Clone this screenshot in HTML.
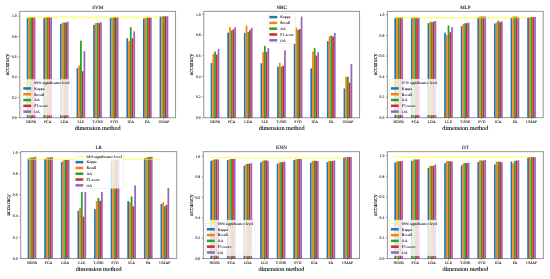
<!DOCTYPE html>
<html><head><meta charset="utf-8"><title>Classifier accuracy by dimension method</title>
<style>
html,body{margin:0;padding:0;background:#fff;}
body{width:550px;height:279px;overflow:hidden;font-family:"Liberation Serif","DejaVu Serif",serif;}
svg{display:block;}
svg text{fill:#000;text-rendering:geometricPrecision;stroke:#000;stroke-width:0.05px;}
svg text.b{stroke-width:0.09px;}
</style></head><body>
<svg width="550" height="279" viewBox="0 0 550 279">
<rect x="0" y="0" width="550" height="279" fill="#ffffff"/>
<g>
<rect x="26.73" y="18.19" width="1.74" height="99.51" fill="#1f77b4"/>
<rect x="28.47" y="17.27" width="1.74" height="100.43" fill="#ff7f0e"/>
<rect x="30.21" y="17.27" width="1.74" height="100.43" fill="#2ca02c"/>
<rect x="31.95" y="17.27" width="1.74" height="100.43" fill="#d62728"/>
<rect x="33.69" y="17.27" width="1.74" height="100.43" fill="#9467bd"/>
<rect x="43.34" y="18.08" width="1.74" height="99.62" fill="#1f77b4"/>
<rect x="45.08" y="17.27" width="1.74" height="100.43" fill="#ff7f0e"/>
<rect x="46.82" y="17.27" width="1.74" height="100.43" fill="#2ca02c"/>
<rect x="48.56" y="17.27" width="1.74" height="100.43" fill="#d62728"/>
<rect x="50.3" y="17.17" width="1.74" height="100.53" fill="#9467bd"/>
<rect x="59.95" y="23.96" width="1.74" height="93.74" fill="#1f77b4"/>
<rect x="61.69" y="22.54" width="1.74" height="95.16" fill="#ff7f0e"/>
<rect x="63.43" y="22.44" width="1.74" height="95.26" fill="#2ca02c"/>
<rect x="65.17" y="22.54" width="1.74" height="95.16" fill="#d62728"/>
<rect x="66.91" y="21.63" width="1.74" height="96.07" fill="#9467bd"/>
<rect x="76.56" y="68.2" width="1.74" height="49.5" fill="#1f77b4"/>
<rect x="78.3" y="65.46" width="1.74" height="52.24" fill="#ff7f0e"/>
<rect x="80.04" y="40.66" width="1.74" height="77.04" fill="#2ca02c"/>
<rect x="81.78" y="71.24" width="1.74" height="46.46" fill="#d62728"/>
<rect x="83.52" y="51.29" width="1.74" height="66.41" fill="#9467bd"/>
<rect x="93.17" y="24.87" width="1.74" height="92.83" fill="#1f77b4"/>
<rect x="94.91" y="23.05" width="1.74" height="94.65" fill="#ff7f0e"/>
<rect x="96.65" y="22.64" width="1.74" height="95.06" fill="#2ca02c"/>
<rect x="98.39" y="23.05" width="1.74" height="94.65" fill="#d62728"/>
<rect x="100.13" y="22.13" width="1.74" height="95.57" fill="#9467bd"/>
<rect x="109.78" y="17.98" width="1.74" height="99.72" fill="#1f77b4"/>
<rect x="111.52" y="17.27" width="1.74" height="100.43" fill="#ff7f0e"/>
<rect x="113.26" y="17.27" width="1.74" height="100.43" fill="#2ca02c"/>
<rect x="115" y="17.27" width="1.74" height="100.43" fill="#d62728"/>
<rect x="116.74" y="17.27" width="1.74" height="100.43" fill="#9467bd"/>
<rect x="126.39" y="38.23" width="1.74" height="79.47" fill="#1f77b4"/>
<rect x="128.13" y="41.07" width="1.74" height="76.63" fill="#ff7f0e"/>
<rect x="129.87" y="27.2" width="1.74" height="90.5" fill="#2ca02c"/>
<rect x="131.61" y="38.23" width="1.74" height="79.47" fill="#d62728"/>
<rect x="133.35" y="31.45" width="1.74" height="86.25" fill="#9467bd"/>
<rect x="143" y="18.49" width="1.74" height="99.21" fill="#1f77b4"/>
<rect x="144.74" y="17.58" width="1.74" height="100.12" fill="#ff7f0e"/>
<rect x="146.48" y="17.58" width="1.74" height="100.12" fill="#2ca02c"/>
<rect x="148.22" y="17.58" width="1.74" height="100.12" fill="#d62728"/>
<rect x="149.96" y="17.48" width="1.74" height="100.22" fill="#9467bd"/>
<rect x="159.61" y="16.67" width="1.74" height="101.03" fill="#1f77b4"/>
<rect x="161.35" y="16.26" width="1.74" height="101.44" fill="#ff7f0e"/>
<rect x="163.09" y="16.26" width="1.74" height="101.44" fill="#2ca02c"/>
<rect x="164.83" y="16.26" width="1.74" height="101.44" fill="#d62728"/>
<rect x="166.57" y="16.26" width="1.74" height="101.44" fill="#9467bd"/>
<line x1="26.43" y1="17.07" x2="159.41" y2="17.07" stroke="#ffff00" stroke-width="0.72"/>
<rect x="19.8" y="11.35" width="155.75" height="106.35" fill="none" stroke="#000" stroke-opacity="0.42" stroke-width="1"/>
<line x1="31.08" y1="118" x2="31.08" y2="119.2" stroke="#000" stroke-opacity="0.42" stroke-width="1"/>
<text x="31.08" y="123.2" font-size="3.8" text-anchor="middle" font-family='"Liberation Serif", "DejaVu Serif", serif'>NDSR</text>
<line x1="47.69" y1="118" x2="47.69" y2="119.2" stroke="#000" stroke-opacity="0.42" stroke-width="1"/>
<text x="47.69" y="123.2" font-size="3.8" text-anchor="middle" font-family='"Liberation Serif", "DejaVu Serif", serif'>PCA</text>
<line x1="64.3" y1="118" x2="64.3" y2="119.2" stroke="#000" stroke-opacity="0.42" stroke-width="1"/>
<text x="64.3" y="123.2" font-size="3.8" text-anchor="middle" font-family='"Liberation Serif", "DejaVu Serif", serif'>LDA</text>
<line x1="80.91" y1="118" x2="80.91" y2="119.2" stroke="#000" stroke-opacity="0.42" stroke-width="1"/>
<text x="80.91" y="123.2" font-size="3.8" text-anchor="middle" font-family='"Liberation Serif", "DejaVu Serif", serif'>LLE</text>
<line x1="97.52" y1="118" x2="97.52" y2="119.2" stroke="#000" stroke-opacity="0.42" stroke-width="1"/>
<text x="97.52" y="123.2" font-size="3.8" text-anchor="middle" font-family='"Liberation Serif", "DejaVu Serif", serif'>T-SNE</text>
<line x1="114.13" y1="118" x2="114.13" y2="119.2" stroke="#000" stroke-opacity="0.42" stroke-width="1"/>
<text x="114.13" y="123.2" font-size="3.8" text-anchor="middle" font-family='"Liberation Serif", "DejaVu Serif", serif'>SVD</text>
<line x1="130.74" y1="118" x2="130.74" y2="119.2" stroke="#000" stroke-opacity="0.42" stroke-width="1"/>
<text x="130.74" y="123.2" font-size="3.8" text-anchor="middle" font-family='"Liberation Serif", "DejaVu Serif", serif'>ICA</text>
<line x1="147.35" y1="118" x2="147.35" y2="119.2" stroke="#000" stroke-opacity="0.42" stroke-width="1"/>
<text x="147.35" y="123.2" font-size="3.8" text-anchor="middle" font-family='"Liberation Serif", "DejaVu Serif", serif'>FA</text>
<line x1="163.96" y1="118" x2="163.96" y2="119.2" stroke="#000" stroke-opacity="0.42" stroke-width="1"/>
<text x="163.96" y="123.2" font-size="3.8" text-anchor="middle" font-family='"Liberation Serif", "DejaVu Serif", serif'>UMAP</text>
<line x1="18.3" y1="117.7" x2="19.5" y2="117.7" stroke="#000" stroke-opacity="0.42" stroke-width="1"/>
<text x="16.7" y="118.95" font-size="3.8" text-anchor="end" font-family='"Liberation Serif", "DejaVu Serif", serif'>0.0</text>
<line x1="18.3" y1="97.4" x2="19.5" y2="97.4" stroke="#000" stroke-opacity="0.42" stroke-width="1"/>
<text x="16.7" y="98.65" font-size="3.8" text-anchor="end" font-family='"Liberation Serif", "DejaVu Serif", serif'>0.2</text>
<line x1="18.3" y1="77.11" x2="19.5" y2="77.11" stroke="#000" stroke-opacity="0.42" stroke-width="1"/>
<text x="16.7" y="78.36" font-size="3.8" text-anchor="end" font-family='"Liberation Serif", "DejaVu Serif", serif'>0.4</text>
<line x1="18.3" y1="56.81" x2="19.5" y2="56.81" stroke="#000" stroke-opacity="0.42" stroke-width="1"/>
<text x="16.7" y="58.06" font-size="3.8" text-anchor="end" font-family='"Liberation Serif", "DejaVu Serif", serif'>0.6</text>
<line x1="18.3" y1="36.52" x2="19.5" y2="36.52" stroke="#000" stroke-opacity="0.42" stroke-width="1"/>
<text x="16.7" y="37.77" font-size="3.8" text-anchor="end" font-family='"Liberation Serif", "DejaVu Serif", serif'>0.8</text>
<line x1="18.3" y1="16.22" x2="19.5" y2="16.22" stroke="#000" stroke-opacity="0.42" stroke-width="1"/>
<text x="16.7" y="17.47" font-size="3.8" text-anchor="end" font-family='"Liberation Serif", "DejaVu Serif", serif'>1.0</text>
<text x="97.68" y="130" font-size="6.2" class="b" text-anchor="middle" font-family='"Liberation Serif", "DejaVu Serif", serif'>dimension method</text>
<text transform="translate(9.2 64.53) rotate(-90)" class="b" font-size="6.2" text-anchor="middle" font-family='"Liberation Serif", "DejaVu Serif", serif'>accuracy</text>
<text x="97.68" y="9.15" font-size="5.0" class="b" text-anchor="middle" font-family='"Liberation Serif", "DejaVu Serif", serif'>SVM</text>
<rect x="21.75" y="79.15" width="49.54" height="36" rx="0.8" ry="0.8" fill="#ffffff" fill-opacity="0.8" stroke="#cccccc" stroke-opacity="0.8" stroke-width="0.35"/>
<line x1="23.31" y1="82.65" x2="31.11" y2="82.65" stroke="#ffff00" stroke-width="0.72"/>
<text x="34.23" y="83.95" font-size="3.9" font-family='"Liberation Serif", "DejaVu Serif", serif'>99% significance level</text>
<rect x="23.31" y="87.2" width="7.8" height="2.5" fill="#1f77b4"/>
<text x="34.23" y="89.75" font-size="3.9" font-family='"Liberation Serif", "DejaVu Serif", serif'>Kappa</text>
<rect x="23.31" y="93" width="7.8" height="2.5" fill="#ff7f0e"/>
<text x="34.23" y="95.55" font-size="3.9" font-family='"Liberation Serif", "DejaVu Serif", serif'>Recall</text>
<rect x="23.31" y="98.8" width="7.8" height="2.5" fill="#2ca02c"/>
<text x="34.23" y="101.35" font-size="3.9" font-family='"Liberation Serif", "DejaVu Serif", serif'>AA</text>
<rect x="23.31" y="104.6" width="7.8" height="2.5" fill="#d62728"/>
<text x="34.23" y="107.15" font-size="3.9" font-family='"Liberation Serif", "DejaVu Serif", serif'>F1-score</text>
<rect x="23.31" y="110.4" width="7.8" height="2.5" fill="#9467bd"/>
<text x="34.23" y="112.95" font-size="3.9" font-family='"Liberation Serif", "DejaVu Serif", serif'>OA</text>
</g>
<g>
<rect x="210.68" y="62.81" width="1.74" height="54.94" fill="#1f77b4"/>
<rect x="212.42" y="53.93" width="1.74" height="63.82" fill="#ff7f0e"/>
<rect x="214.16" y="51.56" width="1.74" height="66.19" fill="#2ca02c"/>
<rect x="215.9" y="54.55" width="1.74" height="63.2" fill="#d62728"/>
<rect x="217.64" y="48.87" width="1.74" height="68.88" fill="#9467bd"/>
<rect x="227.29" y="32.67" width="1.74" height="85.08" fill="#1f77b4"/>
<rect x="229.03" y="27.2" width="1.74" height="90.55" fill="#ff7f0e"/>
<rect x="230.77" y="30.5" width="1.74" height="87.25" fill="#2ca02c"/>
<rect x="232.51" y="29.36" width="1.74" height="88.39" fill="#d62728"/>
<rect x="234.25" y="27.2" width="1.74" height="90.55" fill="#9467bd"/>
<rect x="243.9" y="32.98" width="1.74" height="84.77" fill="#1f77b4"/>
<rect x="245.64" y="25.65" width="1.74" height="92.1" fill="#ff7f0e"/>
<rect x="247.38" y="31.95" width="1.74" height="85.8" fill="#2ca02c"/>
<rect x="249.12" y="30.09" width="1.74" height="87.66" fill="#d62728"/>
<rect x="250.86" y="27.82" width="1.74" height="89.93" fill="#9467bd"/>
<rect x="260.51" y="63.22" width="1.74" height="54.53" fill="#1f77b4"/>
<rect x="262.25" y="52.17" width="1.74" height="65.58" fill="#ff7f0e"/>
<rect x="263.99" y="45.88" width="1.74" height="71.87" fill="#2ca02c"/>
<rect x="265.73" y="51.86" width="1.74" height="65.89" fill="#d62728"/>
<rect x="267.47" y="48.15" width="1.74" height="69.6" fill="#9467bd"/>
<rect x="277.12" y="66.73" width="1.74" height="51.02" fill="#1f77b4"/>
<rect x="278.86" y="62.81" width="1.74" height="54.94" fill="#ff7f0e"/>
<rect x="280.6" y="66.73" width="1.74" height="51.02" fill="#2ca02c"/>
<rect x="282.34" y="65.69" width="1.74" height="52.06" fill="#d62728"/>
<rect x="284.08" y="50.32" width="1.74" height="67.43" fill="#9467bd"/>
<rect x="293.73" y="44.02" width="1.74" height="73.73" fill="#1f77b4"/>
<rect x="295.47" y="27.51" width="1.74" height="90.24" fill="#ff7f0e"/>
<rect x="297.21" y="29.98" width="1.74" height="87.77" fill="#2ca02c"/>
<rect x="298.95" y="29.06" width="1.74" height="88.69" fill="#d62728"/>
<rect x="300.69" y="16.57" width="1.74" height="101.18" fill="#9467bd"/>
<rect x="310.34" y="68.38" width="1.74" height="49.37" fill="#1f77b4"/>
<rect x="312.08" y="51.56" width="1.74" height="66.19" fill="#ff7f0e"/>
<rect x="313.82" y="48.15" width="1.74" height="69.6" fill="#2ca02c"/>
<rect x="315.56" y="55.58" width="1.74" height="62.17" fill="#d62728"/>
<rect x="317.3" y="52.17" width="1.74" height="65.58" fill="#9467bd"/>
<rect x="326.95" y="41.13" width="1.74" height="76.62" fill="#1f77b4"/>
<rect x="328.69" y="36.28" width="1.74" height="81.47" fill="#ff7f0e"/>
<rect x="330.43" y="35.56" width="1.74" height="82.19" fill="#2ca02c"/>
<rect x="332.17" y="36.59" width="1.74" height="81.16" fill="#d62728"/>
<rect x="333.91" y="32.98" width="1.74" height="84.77" fill="#9467bd"/>
<rect x="343.56" y="88.5" width="1.74" height="29.25" fill="#1f77b4"/>
<rect x="345.3" y="76.74" width="1.74" height="41.01" fill="#ff7f0e"/>
<rect x="347.04" y="76.74" width="1.74" height="41.01" fill="#2ca02c"/>
<rect x="348.78" y="82.62" width="1.74" height="35.13" fill="#d62728"/>
<rect x="350.52" y="64.04" width="1.74" height="53.71" fill="#9467bd"/>
<rect x="203.75" y="11.35" width="155.8" height="106.4" fill="none" stroke="#000" stroke-opacity="0.42" stroke-width="1"/>
<line x1="215.03" y1="118.05" x2="215.03" y2="119.25" stroke="#000" stroke-opacity="0.42" stroke-width="1"/>
<text x="215.03" y="123.25" font-size="3.8" text-anchor="middle" font-family='"Liberation Serif", "DejaVu Serif", serif'>NDSR</text>
<line x1="231.64" y1="118.05" x2="231.64" y2="119.25" stroke="#000" stroke-opacity="0.42" stroke-width="1"/>
<text x="231.64" y="123.25" font-size="3.8" text-anchor="middle" font-family='"Liberation Serif", "DejaVu Serif", serif'>PCA</text>
<line x1="248.25" y1="118.05" x2="248.25" y2="119.25" stroke="#000" stroke-opacity="0.42" stroke-width="1"/>
<text x="248.25" y="123.25" font-size="3.8" text-anchor="middle" font-family='"Liberation Serif", "DejaVu Serif", serif'>LDA</text>
<line x1="264.86" y1="118.05" x2="264.86" y2="119.25" stroke="#000" stroke-opacity="0.42" stroke-width="1"/>
<text x="264.86" y="123.25" font-size="3.8" text-anchor="middle" font-family='"Liberation Serif", "DejaVu Serif", serif'>LLE</text>
<line x1="281.47" y1="118.05" x2="281.47" y2="119.25" stroke="#000" stroke-opacity="0.42" stroke-width="1"/>
<text x="281.47" y="123.25" font-size="3.8" text-anchor="middle" font-family='"Liberation Serif", "DejaVu Serif", serif'>T-SNE</text>
<line x1="298.08" y1="118.05" x2="298.08" y2="119.25" stroke="#000" stroke-opacity="0.42" stroke-width="1"/>
<text x="298.08" y="123.25" font-size="3.8" text-anchor="middle" font-family='"Liberation Serif", "DejaVu Serif", serif'>SVD</text>
<line x1="314.69" y1="118.05" x2="314.69" y2="119.25" stroke="#000" stroke-opacity="0.42" stroke-width="1"/>
<text x="314.69" y="123.25" font-size="3.8" text-anchor="middle" font-family='"Liberation Serif", "DejaVu Serif", serif'>ICA</text>
<line x1="331.3" y1="118.05" x2="331.3" y2="119.25" stroke="#000" stroke-opacity="0.42" stroke-width="1"/>
<text x="331.3" y="123.25" font-size="3.8" text-anchor="middle" font-family='"Liberation Serif", "DejaVu Serif", serif'>FA</text>
<line x1="347.91" y1="118.05" x2="347.91" y2="119.25" stroke="#000" stroke-opacity="0.42" stroke-width="1"/>
<text x="347.91" y="123.25" font-size="3.8" text-anchor="middle" font-family='"Liberation Serif", "DejaVu Serif", serif'>UMAP</text>
<line x1="202.25" y1="117.75" x2="203.45" y2="117.75" stroke="#000" stroke-opacity="0.42" stroke-width="1"/>
<text x="200.65" y="119" font-size="3.8" text-anchor="end" font-family='"Liberation Serif", "DejaVu Serif", serif'>0.0</text>
<line x1="202.25" y1="97.05" x2="203.45" y2="97.05" stroke="#000" stroke-opacity="0.42" stroke-width="1"/>
<text x="200.65" y="98.3" font-size="3.8" text-anchor="end" font-family='"Liberation Serif", "DejaVu Serif", serif'>0.2</text>
<line x1="202.25" y1="76.35" x2="203.45" y2="76.35" stroke="#000" stroke-opacity="0.42" stroke-width="1"/>
<text x="200.65" y="77.6" font-size="3.8" text-anchor="end" font-family='"Liberation Serif", "DejaVu Serif", serif'>0.4</text>
<line x1="202.25" y1="55.65" x2="203.45" y2="55.65" stroke="#000" stroke-opacity="0.42" stroke-width="1"/>
<text x="200.65" y="56.9" font-size="3.8" text-anchor="end" font-family='"Liberation Serif", "DejaVu Serif", serif'>0.6</text>
<line x1="202.25" y1="34.95" x2="203.45" y2="34.95" stroke="#000" stroke-opacity="0.42" stroke-width="1"/>
<text x="200.65" y="36.2" font-size="3.8" text-anchor="end" font-family='"Liberation Serif", "DejaVu Serif", serif'>0.8</text>
<line x1="202.25" y1="14.25" x2="203.45" y2="14.25" stroke="#000" stroke-opacity="0.42" stroke-width="1"/>
<text x="200.65" y="15.5" font-size="3.8" text-anchor="end" font-family='"Liberation Serif", "DejaVu Serif", serif'>1.0</text>
<text x="281.65" y="130.05" font-size="6.2" class="b" text-anchor="middle" font-family='"Liberation Serif", "DejaVu Serif", serif'>dimension method</text>
<text transform="translate(193.15 64.55) rotate(-90)" class="b" font-size="6.2" text-anchor="middle" font-family='"Liberation Serif", "DejaVu Serif", serif'>accuracy</text>
<text x="281.65" y="9.15" font-size="5.0" class="b" text-anchor="middle" font-family='"Liberation Serif", "DejaVu Serif", serif'>NBC</text>
<rect x="267.8" y="13.6" width="27.69" height="29.8" rx="0.8" ry="0.8" fill="#ffffff" fill-opacity="0.8" stroke="#cccccc" stroke-opacity="0.8" stroke-width="0.35"/>
<rect x="269.36" y="15.85" width="7.8" height="2.5" fill="#1f77b4"/>
<text x="280.28" y="18.4" font-size="3.9" font-family='"Liberation Serif", "DejaVu Serif", serif'>Kappa</text>
<rect x="269.36" y="21.65" width="7.8" height="2.5" fill="#ff7f0e"/>
<text x="280.28" y="24.2" font-size="3.9" font-family='"Liberation Serif", "DejaVu Serif", serif'>Recall</text>
<rect x="269.36" y="27.45" width="7.8" height="2.5" fill="#2ca02c"/>
<text x="280.28" y="30" font-size="3.9" font-family='"Liberation Serif", "DejaVu Serif", serif'>AA</text>
<rect x="269.36" y="33.25" width="7.8" height="2.5" fill="#d62728"/>
<text x="280.28" y="35.8" font-size="3.9" font-family='"Liberation Serif", "DejaVu Serif", serif'>F1-score</text>
<rect x="269.36" y="39.05" width="7.8" height="2.5" fill="#9467bd"/>
<text x="280.28" y="41.6" font-size="3.9" font-family='"Liberation Serif", "DejaVu Serif", serif'>OA</text>
</g>
<g>
<rect x="394.33" y="18.18" width="1.74" height="99.47" fill="#1f77b4"/>
<rect x="396.07" y="16.95" width="1.74" height="100.7" fill="#ff7f0e"/>
<rect x="397.81" y="17.46" width="1.74" height="100.19" fill="#2ca02c"/>
<rect x="399.55" y="17.25" width="1.74" height="100.4" fill="#d62728"/>
<rect x="401.29" y="17.25" width="1.74" height="100.4" fill="#9467bd"/>
<rect x="410.94" y="18.18" width="1.74" height="99.47" fill="#1f77b4"/>
<rect x="412.68" y="17.15" width="1.74" height="100.5" fill="#ff7f0e"/>
<rect x="414.42" y="17.66" width="1.74" height="99.99" fill="#2ca02c"/>
<rect x="416.16" y="17.66" width="1.74" height="99.99" fill="#d62728"/>
<rect x="417.9" y="17.66" width="1.74" height="99.99" fill="#9467bd"/>
<rect x="427.55" y="23.21" width="1.74" height="94.44" fill="#1f77b4"/>
<rect x="429.29" y="21.67" width="1.74" height="95.98" fill="#ff7f0e"/>
<rect x="431.03" y="22.08" width="1.74" height="95.57" fill="#2ca02c"/>
<rect x="432.77" y="21.77" width="1.74" height="95.88" fill="#d62728"/>
<rect x="434.51" y="20.95" width="1.74" height="96.7" fill="#9467bd"/>
<rect x="444.16" y="32.65" width="1.74" height="85" fill="#1f77b4"/>
<rect x="445.9" y="35.11" width="1.74" height="82.54" fill="#ff7f0e"/>
<rect x="447.64" y="25.46" width="1.74" height="92.19" fill="#2ca02c"/>
<rect x="449.38" y="32.24" width="1.74" height="85.41" fill="#d62728"/>
<rect x="451.12" y="27.1" width="1.74" height="90.55" fill="#9467bd"/>
<rect x="460.77" y="26.18" width="1.74" height="91.47" fill="#1f77b4"/>
<rect x="462.51" y="23.92" width="1.74" height="93.73" fill="#ff7f0e"/>
<rect x="464.25" y="23.21" width="1.74" height="94.44" fill="#2ca02c"/>
<rect x="465.99" y="23.21" width="1.74" height="94.44" fill="#d62728"/>
<rect x="467.73" y="22.49" width="1.74" height="95.16" fill="#9467bd"/>
<rect x="477.38" y="17.77" width="1.74" height="99.88" fill="#1f77b4"/>
<rect x="479.12" y="16.33" width="1.74" height="101.32" fill="#ff7f0e"/>
<rect x="480.86" y="16.54" width="1.74" height="101.11" fill="#2ca02c"/>
<rect x="482.6" y="16.54" width="1.74" height="101.11" fill="#d62728"/>
<rect x="484.34" y="16.54" width="1.74" height="101.11" fill="#9467bd"/>
<rect x="493.99" y="23.51" width="1.74" height="94.14" fill="#1f77b4"/>
<rect x="495.73" y="22.49" width="1.74" height="95.16" fill="#ff7f0e"/>
<rect x="497.47" y="20.64" width="1.74" height="97.01" fill="#2ca02c"/>
<rect x="499.21" y="22.08" width="1.74" height="95.57" fill="#d62728"/>
<rect x="500.95" y="21.36" width="1.74" height="96.29" fill="#9467bd"/>
<rect x="510.6" y="17.77" width="1.74" height="99.88" fill="#1f77b4"/>
<rect x="512.34" y="16.54" width="1.74" height="101.11" fill="#ff7f0e"/>
<rect x="514.08" y="16.54" width="1.74" height="101.11" fill="#2ca02c"/>
<rect x="515.82" y="16.54" width="1.74" height="101.11" fill="#d62728"/>
<rect x="517.56" y="17.05" width="1.74" height="100.6" fill="#9467bd"/>
<rect x="527.21" y="17.77" width="1.74" height="99.88" fill="#1f77b4"/>
<rect x="528.95" y="17.25" width="1.74" height="100.4" fill="#ff7f0e"/>
<rect x="530.69" y="16.95" width="1.74" height="100.7" fill="#2ca02c"/>
<rect x="532.43" y="17.25" width="1.74" height="100.4" fill="#d62728"/>
<rect x="534.17" y="16.95" width="1.74" height="100.7" fill="#9467bd"/>
<line x1="394.03" y1="17.77" x2="527.01" y2="17.77" stroke="#ffff00" stroke-width="0.72"/>
<rect x="387.4" y="11.35" width="155.8" height="106.3" fill="none" stroke="#000" stroke-opacity="0.42" stroke-width="1"/>
<line x1="398.68" y1="117.95" x2="398.68" y2="119.15" stroke="#000" stroke-opacity="0.42" stroke-width="1"/>
<text x="398.68" y="123.15" font-size="3.8" text-anchor="middle" font-family='"Liberation Serif", "DejaVu Serif", serif'>NDSR</text>
<line x1="415.29" y1="117.95" x2="415.29" y2="119.15" stroke="#000" stroke-opacity="0.42" stroke-width="1"/>
<text x="415.29" y="123.15" font-size="3.8" text-anchor="middle" font-family='"Liberation Serif", "DejaVu Serif", serif'>PCA</text>
<line x1="431.9" y1="117.95" x2="431.9" y2="119.15" stroke="#000" stroke-opacity="0.42" stroke-width="1"/>
<text x="431.9" y="123.15" font-size="3.8" text-anchor="middle" font-family='"Liberation Serif", "DejaVu Serif", serif'>LDA</text>
<line x1="448.51" y1="117.95" x2="448.51" y2="119.15" stroke="#000" stroke-opacity="0.42" stroke-width="1"/>
<text x="448.51" y="123.15" font-size="3.8" text-anchor="middle" font-family='"Liberation Serif", "DejaVu Serif", serif'>LLE</text>
<line x1="465.12" y1="117.95" x2="465.12" y2="119.15" stroke="#000" stroke-opacity="0.42" stroke-width="1"/>
<text x="465.12" y="123.15" font-size="3.8" text-anchor="middle" font-family='"Liberation Serif", "DejaVu Serif", serif'>T-SNE</text>
<line x1="481.73" y1="117.95" x2="481.73" y2="119.15" stroke="#000" stroke-opacity="0.42" stroke-width="1"/>
<text x="481.73" y="123.15" font-size="3.8" text-anchor="middle" font-family='"Liberation Serif", "DejaVu Serif", serif'>SVD</text>
<line x1="498.34" y1="117.95" x2="498.34" y2="119.15" stroke="#000" stroke-opacity="0.42" stroke-width="1"/>
<text x="498.34" y="123.15" font-size="3.8" text-anchor="middle" font-family='"Liberation Serif", "DejaVu Serif", serif'>ICA</text>
<line x1="514.95" y1="117.95" x2="514.95" y2="119.15" stroke="#000" stroke-opacity="0.42" stroke-width="1"/>
<text x="514.95" y="123.15" font-size="3.8" text-anchor="middle" font-family='"Liberation Serif", "DejaVu Serif", serif'>FA</text>
<line x1="531.56" y1="117.95" x2="531.56" y2="119.15" stroke="#000" stroke-opacity="0.42" stroke-width="1"/>
<text x="531.56" y="123.15" font-size="3.8" text-anchor="middle" font-family='"Liberation Serif", "DejaVu Serif", serif'>UMAP</text>
<line x1="385.9" y1="117.65" x2="387.1" y2="117.65" stroke="#000" stroke-opacity="0.42" stroke-width="1"/>
<text x="384.3" y="118.9" font-size="3.8" text-anchor="end" font-family='"Liberation Serif", "DejaVu Serif", serif'>0.0</text>
<line x1="385.9" y1="97.09" x2="387.1" y2="97.09" stroke="#000" stroke-opacity="0.42" stroke-width="1"/>
<text x="384.3" y="98.34" font-size="3.8" text-anchor="end" font-family='"Liberation Serif", "DejaVu Serif", serif'>0.2</text>
<line x1="385.9" y1="76.53" x2="387.1" y2="76.53" stroke="#000" stroke-opacity="0.42" stroke-width="1"/>
<text x="384.3" y="77.78" font-size="3.8" text-anchor="end" font-family='"Liberation Serif", "DejaVu Serif", serif'>0.4</text>
<line x1="385.9" y1="55.97" x2="387.1" y2="55.97" stroke="#000" stroke-opacity="0.42" stroke-width="1"/>
<text x="384.3" y="57.22" font-size="3.8" text-anchor="end" font-family='"Liberation Serif", "DejaVu Serif", serif'>0.6</text>
<line x1="385.9" y1="35.41" x2="387.1" y2="35.41" stroke="#000" stroke-opacity="0.42" stroke-width="1"/>
<text x="384.3" y="36.66" font-size="3.8" text-anchor="end" font-family='"Liberation Serif", "DejaVu Serif", serif'>0.8</text>
<line x1="385.9" y1="14.85" x2="387.1" y2="14.85" stroke="#000" stroke-opacity="0.42" stroke-width="1"/>
<text x="384.3" y="16.1" font-size="3.8" text-anchor="end" font-family='"Liberation Serif", "DejaVu Serif", serif'>1.0</text>
<text x="465.3" y="129.95" font-size="6.2" class="b" text-anchor="middle" font-family='"Liberation Serif", "DejaVu Serif", serif'>dimension method</text>
<text transform="translate(376.8 64.5) rotate(-90)" class="b" font-size="6.2" text-anchor="middle" font-family='"Liberation Serif", "DejaVu Serif", serif'>accuracy</text>
<text x="465.3" y="9.15" font-size="5.0" class="b" text-anchor="middle" font-family='"Liberation Serif", "DejaVu Serif", serif'>MLP</text>
<rect x="389.35" y="79.1" width="49.54" height="36" rx="0.8" ry="0.8" fill="#ffffff" fill-opacity="0.8" stroke="#cccccc" stroke-opacity="0.8" stroke-width="0.35"/>
<line x1="390.91" y1="82.6" x2="398.71" y2="82.6" stroke="#ffff00" stroke-width="0.72"/>
<text x="401.83" y="83.9" font-size="3.9" font-family='"Liberation Serif", "DejaVu Serif", serif'>97% significance level</text>
<rect x="390.91" y="87.15" width="7.8" height="2.5" fill="#1f77b4"/>
<text x="401.83" y="89.7" font-size="3.9" font-family='"Liberation Serif", "DejaVu Serif", serif'>Kappa</text>
<rect x="390.91" y="92.95" width="7.8" height="2.5" fill="#ff7f0e"/>
<text x="401.83" y="95.5" font-size="3.9" font-family='"Liberation Serif", "DejaVu Serif", serif'>Recall</text>
<rect x="390.91" y="98.75" width="7.8" height="2.5" fill="#2ca02c"/>
<text x="401.83" y="101.3" font-size="3.9" font-family='"Liberation Serif", "DejaVu Serif", serif'>AA</text>
<rect x="390.91" y="104.55" width="7.8" height="2.5" fill="#d62728"/>
<text x="401.83" y="107.1" font-size="3.9" font-family='"Liberation Serif", "DejaVu Serif", serif'>F1-score</text>
<rect x="390.91" y="110.35" width="7.8" height="2.5" fill="#9467bd"/>
<text x="401.83" y="112.9" font-size="3.9" font-family='"Liberation Serif", "DejaVu Serif", serif'>OA</text>
</g>
<g>
<rect x="27.63" y="158.63" width="1.74" height="99.82" fill="#1f77b4"/>
<rect x="29.37" y="157.47" width="1.74" height="100.98" fill="#ff7f0e"/>
<rect x="31.11" y="157.47" width="1.74" height="100.98" fill="#2ca02c"/>
<rect x="32.85" y="157.47" width="1.74" height="100.98" fill="#d62728"/>
<rect x="34.59" y="156.74" width="1.74" height="101.71" fill="#9467bd"/>
<rect x="44.24" y="158.94" width="1.74" height="99.51" fill="#1f77b4"/>
<rect x="45.98" y="157.47" width="1.74" height="100.98" fill="#ff7f0e"/>
<rect x="47.72" y="157.47" width="1.74" height="100.98" fill="#2ca02c"/>
<rect x="49.46" y="157.47" width="1.74" height="100.98" fill="#d62728"/>
<rect x="51.2" y="157.05" width="1.74" height="101.4" fill="#9467bd"/>
<rect x="60.85" y="162.1" width="1.74" height="96.35" fill="#1f77b4"/>
<rect x="62.59" y="160.42" width="1.74" height="98.03" fill="#ff7f0e"/>
<rect x="64.33" y="160" width="1.74" height="98.45" fill="#2ca02c"/>
<rect x="66.07" y="160" width="1.74" height="98.45" fill="#d62728"/>
<rect x="67.81" y="159.68" width="1.74" height="98.77" fill="#9467bd"/>
<rect x="77.46" y="210.78" width="1.74" height="47.67" fill="#1f77b4"/>
<rect x="79.2" y="207.94" width="1.74" height="50.51" fill="#ff7f0e"/>
<rect x="80.94" y="191.96" width="1.74" height="66.49" fill="#2ca02c"/>
<rect x="82.68" y="216.67" width="1.74" height="41.78" fill="#d62728"/>
<rect x="84.42" y="191.96" width="1.74" height="66.49" fill="#9467bd"/>
<rect x="94.07" y="209.1" width="1.74" height="49.35" fill="#1f77b4"/>
<rect x="95.81" y="201.11" width="1.74" height="57.34" fill="#ff7f0e"/>
<rect x="97.55" y="197.96" width="1.74" height="60.49" fill="#2ca02c"/>
<rect x="99.29" y="200.79" width="1.74" height="57.66" fill="#d62728"/>
<rect x="101.03" y="191.96" width="1.74" height="66.49" fill="#9467bd"/>
<rect x="110.68" y="160.84" width="1.74" height="97.61" fill="#1f77b4"/>
<rect x="112.42" y="159.58" width="1.74" height="98.87" fill="#ff7f0e"/>
<rect x="114.16" y="159.58" width="1.74" height="98.87" fill="#2ca02c"/>
<rect x="115.9" y="159.58" width="1.74" height="98.87" fill="#d62728"/>
<rect x="117.64" y="159.26" width="1.74" height="99.19" fill="#9467bd"/>
<rect x="127.29" y="201.11" width="1.74" height="57.34" fill="#1f77b4"/>
<rect x="129.03" y="202.16" width="1.74" height="56.29" fill="#ff7f0e"/>
<rect x="130.77" y="196.38" width="1.74" height="62.07" fill="#2ca02c"/>
<rect x="132.51" y="206.26" width="1.74" height="52.19" fill="#d62728"/>
<rect x="134.25" y="185.34" width="1.74" height="73.11" fill="#9467bd"/>
<rect x="143.9" y="158.21" width="1.74" height="100.24" fill="#1f77b4"/>
<rect x="145.64" y="157.47" width="1.74" height="100.98" fill="#ff7f0e"/>
<rect x="147.38" y="157.05" width="1.74" height="101.4" fill="#2ca02c"/>
<rect x="149.12" y="157.05" width="1.74" height="101.4" fill="#d62728"/>
<rect x="150.86" y="156.74" width="1.74" height="101.71" fill="#9467bd"/>
<rect x="160.51" y="204.05" width="1.74" height="54.4" fill="#1f77b4"/>
<rect x="162.25" y="202.16" width="1.74" height="56.29" fill="#ff7f0e"/>
<rect x="163.99" y="206.26" width="1.74" height="52.19" fill="#2ca02c"/>
<rect x="165.73" y="204.79" width="1.74" height="53.66" fill="#d62728"/>
<rect x="167.47" y="188.07" width="1.74" height="70.38" fill="#9467bd"/>
<line x1="27.33" y1="159.26" x2="160.31" y2="159.26" stroke="#ffff00" stroke-width="0.72"/>
<rect x="20.7" y="151.6" width="156.05" height="106.85" fill="none" stroke="#000" stroke-opacity="0.42" stroke-width="1"/>
<line x1="31.98" y1="258.75" x2="31.98" y2="259.95" stroke="#000" stroke-opacity="0.42" stroke-width="1"/>
<text x="31.98" y="263.95" font-size="3.8" text-anchor="middle" font-family='"Liberation Serif", "DejaVu Serif", serif'>NDSR</text>
<line x1="48.59" y1="258.75" x2="48.59" y2="259.95" stroke="#000" stroke-opacity="0.42" stroke-width="1"/>
<text x="48.59" y="263.95" font-size="3.8" text-anchor="middle" font-family='"Liberation Serif", "DejaVu Serif", serif'>PCA</text>
<line x1="65.2" y1="258.75" x2="65.2" y2="259.95" stroke="#000" stroke-opacity="0.42" stroke-width="1"/>
<text x="65.2" y="263.95" font-size="3.8" text-anchor="middle" font-family='"Liberation Serif", "DejaVu Serif", serif'>LDA</text>
<line x1="81.81" y1="258.75" x2="81.81" y2="259.95" stroke="#000" stroke-opacity="0.42" stroke-width="1"/>
<text x="81.81" y="263.95" font-size="3.8" text-anchor="middle" font-family='"Liberation Serif", "DejaVu Serif", serif'>LLE</text>
<line x1="98.42" y1="258.75" x2="98.42" y2="259.95" stroke="#000" stroke-opacity="0.42" stroke-width="1"/>
<text x="98.42" y="263.95" font-size="3.8" text-anchor="middle" font-family='"Liberation Serif", "DejaVu Serif", serif'>T-SNE</text>
<line x1="115.03" y1="258.75" x2="115.03" y2="259.95" stroke="#000" stroke-opacity="0.42" stroke-width="1"/>
<text x="115.03" y="263.95" font-size="3.8" text-anchor="middle" font-family='"Liberation Serif", "DejaVu Serif", serif'>SVD</text>
<line x1="131.64" y1="258.75" x2="131.64" y2="259.95" stroke="#000" stroke-opacity="0.42" stroke-width="1"/>
<text x="131.64" y="263.95" font-size="3.8" text-anchor="middle" font-family='"Liberation Serif", "DejaVu Serif", serif'>ICA</text>
<line x1="148.25" y1="258.75" x2="148.25" y2="259.95" stroke="#000" stroke-opacity="0.42" stroke-width="1"/>
<text x="148.25" y="263.95" font-size="3.8" text-anchor="middle" font-family='"Liberation Serif", "DejaVu Serif", serif'>FA</text>
<line x1="164.86" y1="258.75" x2="164.86" y2="259.95" stroke="#000" stroke-opacity="0.42" stroke-width="1"/>
<text x="164.86" y="263.95" font-size="3.8" text-anchor="middle" font-family='"Liberation Serif", "DejaVu Serif", serif'>UMAP</text>
<line x1="19.2" y1="258.45" x2="20.4" y2="258.45" stroke="#000" stroke-opacity="0.42" stroke-width="1"/>
<text x="17.6" y="259.7" font-size="3.8" text-anchor="end" font-family='"Liberation Serif", "DejaVu Serif", serif'>0.0</text>
<line x1="19.2" y1="237.29" x2="20.4" y2="237.29" stroke="#000" stroke-opacity="0.42" stroke-width="1"/>
<text x="17.6" y="238.54" font-size="3.8" text-anchor="end" font-family='"Liberation Serif", "DejaVu Serif", serif'>0.2</text>
<line x1="19.2" y1="216.13" x2="20.4" y2="216.13" stroke="#000" stroke-opacity="0.42" stroke-width="1"/>
<text x="17.6" y="217.38" font-size="3.8" text-anchor="end" font-family='"Liberation Serif", "DejaVu Serif", serif'>0.4</text>
<line x1="19.2" y1="194.97" x2="20.4" y2="194.97" stroke="#000" stroke-opacity="0.42" stroke-width="1"/>
<text x="17.6" y="196.22" font-size="3.8" text-anchor="end" font-family='"Liberation Serif", "DejaVu Serif", serif'>0.6</text>
<line x1="19.2" y1="173.82" x2="20.4" y2="173.82" stroke="#000" stroke-opacity="0.42" stroke-width="1"/>
<text x="17.6" y="175.07" font-size="3.8" text-anchor="end" font-family='"Liberation Serif", "DejaVu Serif", serif'>0.8</text>
<line x1="19.2" y1="152.66" x2="20.4" y2="152.66" stroke="#000" stroke-opacity="0.42" stroke-width="1"/>
<text x="17.6" y="153.91" font-size="3.8" text-anchor="end" font-family='"Liberation Serif", "DejaVu Serif", serif'>1.0</text>
<text x="98.72" y="270.75" font-size="6.2" class="b" text-anchor="middle" font-family='"Liberation Serif", "DejaVu Serif", serif'>dimension method</text>
<text transform="translate(10.3 205.02) rotate(-90)" class="b" font-size="4.8" text-anchor="middle" font-family='"DejaVu Sans", "Liberation Sans", sans-serif'>accuracy</text>
<text x="98.72" y="149.4" font-size="5.0" class="b" text-anchor="middle" font-family='"Liberation Serif", "DejaVu Serif", serif'>LR</text>
<rect x="73.95" y="152.85" width="49.54" height="35.6" rx="0.8" ry="0.8" fill="#ffffff" fill-opacity="0.8" stroke="#cccccc" stroke-opacity="0.8" stroke-width="0.35"/>
<line x1="75.51" y1="156.35" x2="83.31" y2="156.35" stroke="#ffff00" stroke-width="0.72"/>
<text x="86.43" y="157.65" font-size="3.9" font-family='"Liberation Serif", "DejaVu Serif", serif'>94% significance level</text>
<rect x="75.51" y="160.9" width="7.8" height="2.5" fill="#1f77b4"/>
<text x="86.43" y="163.45" font-size="3.9" font-family='"Liberation Serif", "DejaVu Serif", serif'>Kappa</text>
<rect x="75.51" y="166.7" width="7.8" height="2.5" fill="#ff7f0e"/>
<text x="86.43" y="169.25" font-size="3.9" font-family='"Liberation Serif", "DejaVu Serif", serif'>Recall</text>
<rect x="75.51" y="172.5" width="7.8" height="2.5" fill="#2ca02c"/>
<text x="86.43" y="175.05" font-size="3.9" font-family='"Liberation Serif", "DejaVu Serif", serif'>AA</text>
<rect x="75.51" y="178.3" width="7.8" height="2.5" fill="#d62728"/>
<text x="86.43" y="180.85" font-size="3.9" font-family='"Liberation Serif", "DejaVu Serif", serif'>F1-score</text>
<rect x="75.51" y="184.1" width="7.8" height="2.5" fill="#9467bd"/>
<text x="86.43" y="186.65" font-size="3.9" font-family='"Liberation Serif", "DejaVu Serif", serif'>OA</text>
</g>
<g>
<rect x="210.28" y="160.82" width="1.74" height="97.68" fill="#1f77b4"/>
<rect x="212.02" y="160.01" width="1.74" height="98.49" fill="#ff7f0e"/>
<rect x="213.76" y="159.4" width="1.74" height="99.1" fill="#2ca02c"/>
<rect x="215.5" y="159.4" width="1.74" height="99.1" fill="#d62728"/>
<rect x="217.24" y="159.4" width="1.74" height="99.1" fill="#9467bd"/>
<rect x="226.89" y="160.11" width="1.74" height="98.39" fill="#1f77b4"/>
<rect x="228.63" y="159.4" width="1.74" height="99.1" fill="#ff7f0e"/>
<rect x="230.37" y="158.99" width="1.74" height="99.51" fill="#2ca02c"/>
<rect x="232.11" y="158.99" width="1.74" height="99.51" fill="#d62728"/>
<rect x="233.85" y="158.99" width="1.74" height="99.51" fill="#9467bd"/>
<rect x="243.5" y="165.78" width="1.74" height="92.72" fill="#1f77b4"/>
<rect x="245.24" y="164.06" width="1.74" height="94.44" fill="#ff7f0e"/>
<rect x="246.98" y="163.76" width="1.74" height="94.74" fill="#2ca02c"/>
<rect x="248.72" y="163.76" width="1.74" height="94.74" fill="#d62728"/>
<rect x="250.46" y="163.05" width="1.74" height="95.45" fill="#9467bd"/>
<rect x="260.11" y="162.34" width="1.74" height="96.16" fill="#1f77b4"/>
<rect x="261.85" y="160.72" width="1.74" height="97.78" fill="#ff7f0e"/>
<rect x="263.59" y="160.41" width="1.74" height="98.09" fill="#2ca02c"/>
<rect x="265.33" y="160.41" width="1.74" height="98.09" fill="#d62728"/>
<rect x="267.07" y="160.82" width="1.74" height="97.68" fill="#9467bd"/>
<rect x="276.72" y="163.76" width="1.74" height="94.74" fill="#1f77b4"/>
<rect x="278.46" y="162.54" width="1.74" height="95.96" fill="#ff7f0e"/>
<rect x="280.2" y="162.13" width="1.74" height="96.37" fill="#2ca02c"/>
<rect x="281.94" y="162.13" width="1.74" height="96.37" fill="#d62728"/>
<rect x="283.68" y="161.43" width="1.74" height="97.07" fill="#9467bd"/>
<rect x="293.33" y="160.01" width="1.74" height="98.49" fill="#1f77b4"/>
<rect x="295.07" y="159.3" width="1.74" height="99.2" fill="#ff7f0e"/>
<rect x="296.81" y="158.99" width="1.74" height="99.51" fill="#2ca02c"/>
<rect x="298.55" y="158.99" width="1.74" height="99.51" fill="#d62728"/>
<rect x="300.29" y="158.99" width="1.74" height="99.51" fill="#9467bd"/>
<rect x="309.94" y="162.84" width="1.74" height="95.66" fill="#1f77b4"/>
<rect x="311.68" y="160.82" width="1.74" height="97.68" fill="#ff7f0e"/>
<rect x="313.42" y="160.72" width="1.74" height="97.78" fill="#2ca02c"/>
<rect x="315.16" y="160.72" width="1.74" height="97.78" fill="#d62728"/>
<rect x="316.9" y="161.12" width="1.74" height="97.38" fill="#9467bd"/>
<rect x="326.55" y="162.13" width="1.74" height="96.37" fill="#1f77b4"/>
<rect x="328.29" y="160.82" width="1.74" height="97.68" fill="#ff7f0e"/>
<rect x="330.03" y="161.12" width="1.74" height="97.38" fill="#2ca02c"/>
<rect x="331.77" y="160.82" width="1.74" height="97.68" fill="#d62728"/>
<rect x="333.51" y="160.41" width="1.74" height="98.09" fill="#9467bd"/>
<rect x="343.16" y="157.57" width="1.74" height="100.93" fill="#1f77b4"/>
<rect x="344.9" y="157.07" width="1.74" height="101.43" fill="#ff7f0e"/>
<rect x="346.64" y="156.97" width="1.74" height="101.53" fill="#2ca02c"/>
<rect x="348.38" y="157.07" width="1.74" height="101.43" fill="#d62728"/>
<rect x="350.12" y="157.07" width="1.74" height="101.43" fill="#9467bd"/>
<line x1="209.98" y1="157.78" x2="342.96" y2="157.78" stroke="#ffff00" stroke-width="0.72"/>
<rect x="203.35" y="151.65" width="156.15" height="106.85" fill="none" stroke="#000" stroke-opacity="0.42" stroke-width="1"/>
<line x1="214.63" y1="258.8" x2="214.63" y2="260" stroke="#000" stroke-opacity="0.42" stroke-width="1"/>
<text x="214.63" y="264" font-size="3.8" text-anchor="middle" font-family='"Liberation Serif", "DejaVu Serif", serif'>NDSR</text>
<line x1="231.24" y1="258.8" x2="231.24" y2="260" stroke="#000" stroke-opacity="0.42" stroke-width="1"/>
<text x="231.24" y="264" font-size="3.8" text-anchor="middle" font-family='"Liberation Serif", "DejaVu Serif", serif'>PCA</text>
<line x1="247.85" y1="258.8" x2="247.85" y2="260" stroke="#000" stroke-opacity="0.42" stroke-width="1"/>
<text x="247.85" y="264" font-size="3.8" text-anchor="middle" font-family='"Liberation Serif", "DejaVu Serif", serif'>LDA</text>
<line x1="264.46" y1="258.8" x2="264.46" y2="260" stroke="#000" stroke-opacity="0.42" stroke-width="1"/>
<text x="264.46" y="264" font-size="3.8" text-anchor="middle" font-family='"Liberation Serif", "DejaVu Serif", serif'>LLE</text>
<line x1="281.07" y1="258.8" x2="281.07" y2="260" stroke="#000" stroke-opacity="0.42" stroke-width="1"/>
<text x="281.07" y="264" font-size="3.8" text-anchor="middle" font-family='"Liberation Serif", "DejaVu Serif", serif'>T-SNE</text>
<line x1="297.68" y1="258.8" x2="297.68" y2="260" stroke="#000" stroke-opacity="0.42" stroke-width="1"/>
<text x="297.68" y="264" font-size="3.8" text-anchor="middle" font-family='"Liberation Serif", "DejaVu Serif", serif'>SVD</text>
<line x1="314.29" y1="258.8" x2="314.29" y2="260" stroke="#000" stroke-opacity="0.42" stroke-width="1"/>
<text x="314.29" y="264" font-size="3.8" text-anchor="middle" font-family='"Liberation Serif", "DejaVu Serif", serif'>ICA</text>
<line x1="330.9" y1="258.8" x2="330.9" y2="260" stroke="#000" stroke-opacity="0.42" stroke-width="1"/>
<text x="330.9" y="264" font-size="3.8" text-anchor="middle" font-family='"Liberation Serif", "DejaVu Serif", serif'>FA</text>
<line x1="347.51" y1="258.8" x2="347.51" y2="260" stroke="#000" stroke-opacity="0.42" stroke-width="1"/>
<text x="347.51" y="264" font-size="3.8" text-anchor="middle" font-family='"Liberation Serif", "DejaVu Serif", serif'>UMAP</text>
<line x1="201.85" y1="258.5" x2="203.05" y2="258.5" stroke="#000" stroke-opacity="0.42" stroke-width="1"/>
<text x="200.25" y="259.75" font-size="3.8" text-anchor="end" font-family='"Liberation Serif", "DejaVu Serif", serif'>0.0</text>
<line x1="201.85" y1="238.11" x2="203.05" y2="238.11" stroke="#000" stroke-opacity="0.42" stroke-width="1"/>
<text x="200.25" y="239.36" font-size="3.8" text-anchor="end" font-family='"Liberation Serif", "DejaVu Serif", serif'>0.2</text>
<line x1="201.85" y1="217.72" x2="203.05" y2="217.72" stroke="#000" stroke-opacity="0.42" stroke-width="1"/>
<text x="200.25" y="218.97" font-size="3.8" text-anchor="end" font-family='"Liberation Serif", "DejaVu Serif", serif'>0.4</text>
<line x1="201.85" y1="197.33" x2="203.05" y2="197.33" stroke="#000" stroke-opacity="0.42" stroke-width="1"/>
<text x="200.25" y="198.58" font-size="3.8" text-anchor="end" font-family='"Liberation Serif", "DejaVu Serif", serif'>0.6</text>
<line x1="201.85" y1="176.94" x2="203.05" y2="176.94" stroke="#000" stroke-opacity="0.42" stroke-width="1"/>
<text x="200.25" y="178.19" font-size="3.8" text-anchor="end" font-family='"Liberation Serif", "DejaVu Serif", serif'>0.8</text>
<line x1="201.85" y1="156.54" x2="203.05" y2="156.54" stroke="#000" stroke-opacity="0.42" stroke-width="1"/>
<text x="200.25" y="157.79" font-size="3.8" text-anchor="end" font-family='"Liberation Serif", "DejaVu Serif", serif'>1.0</text>
<text x="281.43" y="270.8" font-size="6.2" class="b" text-anchor="middle" font-family='"Liberation Serif", "DejaVu Serif", serif'>dimension method</text>
<text transform="translate(192.75 205.07) rotate(-90)" class="b" font-size="6.2" text-anchor="middle" font-family='"Liberation Serif", "DejaVu Serif", serif'>accuracy</text>
<text x="281.43" y="149.45" font-size="5.0" class="b" text-anchor="middle" font-family='"Liberation Serif", "DejaVu Serif", serif'>KNN</text>
<rect x="205.3" y="219.95" width="49.54" height="36" rx="0.8" ry="0.8" fill="#ffffff" fill-opacity="0.8" stroke="#cccccc" stroke-opacity="0.8" stroke-width="0.35"/>
<line x1="206.86" y1="223.45" x2="214.66" y2="223.45" stroke="#ffff00" stroke-width="0.72"/>
<text x="217.78" y="224.75" font-size="3.9" font-family='"Liberation Serif", "DejaVu Serif", serif'>99% significance level</text>
<rect x="206.86" y="228" width="7.8" height="2.5" fill="#1f77b4"/>
<text x="217.78" y="230.55" font-size="3.9" font-family='"Liberation Serif", "DejaVu Serif", serif'>Kappa</text>
<rect x="206.86" y="233.8" width="7.8" height="2.5" fill="#ff7f0e"/>
<text x="217.78" y="236.35" font-size="3.9" font-family='"Liberation Serif", "DejaVu Serif", serif'>Recall</text>
<rect x="206.86" y="239.6" width="7.8" height="2.5" fill="#2ca02c"/>
<text x="217.78" y="242.15" font-size="3.9" font-family='"Liberation Serif", "DejaVu Serif", serif'>AA</text>
<rect x="206.86" y="245.4" width="7.8" height="2.5" fill="#d62728"/>
<text x="217.78" y="247.95" font-size="3.9" font-family='"Liberation Serif", "DejaVu Serif", serif'>F1-score</text>
<rect x="206.86" y="251.2" width="7.8" height="2.5" fill="#9467bd"/>
<text x="217.78" y="253.75" font-size="3.9" font-family='"Liberation Serif", "DejaVu Serif", serif'>OA</text>
</g>
<g>
<rect x="394.33" y="162.68" width="1.74" height="95.87" fill="#1f77b4"/>
<rect x="396.07" y="161.25" width="1.74" height="97.3" fill="#ff7f0e"/>
<rect x="397.81" y="161.25" width="1.74" height="97.3" fill="#2ca02c"/>
<rect x="399.55" y="161.25" width="1.74" height="97.3" fill="#d62728"/>
<rect x="401.29" y="160.84" width="1.74" height="97.71" fill="#9467bd"/>
<rect x="410.94" y="160.94" width="1.74" height="97.61" fill="#1f77b4"/>
<rect x="412.68" y="159.51" width="1.74" height="99.04" fill="#ff7f0e"/>
<rect x="414.42" y="159.51" width="1.74" height="99.04" fill="#2ca02c"/>
<rect x="416.16" y="159.51" width="1.74" height="99.04" fill="#d62728"/>
<rect x="417.9" y="159.31" width="1.74" height="99.24" fill="#9467bd"/>
<rect x="427.55" y="168.09" width="1.74" height="90.46" fill="#1f77b4"/>
<rect x="429.29" y="165.85" width="1.74" height="92.7" fill="#ff7f0e"/>
<rect x="431.03" y="165.85" width="1.74" height="92.7" fill="#2ca02c"/>
<rect x="432.77" y="165.85" width="1.74" height="92.7" fill="#d62728"/>
<rect x="434.51" y="164.52" width="1.74" height="94.03" fill="#9467bd"/>
<rect x="444.16" y="163.09" width="1.74" height="95.46" fill="#1f77b4"/>
<rect x="445.9" y="160.94" width="1.74" height="97.61" fill="#ff7f0e"/>
<rect x="447.64" y="161.25" width="1.74" height="97.3" fill="#2ca02c"/>
<rect x="449.38" y="161.25" width="1.74" height="97.3" fill="#d62728"/>
<rect x="451.12" y="161.55" width="1.74" height="97" fill="#9467bd"/>
<rect x="460.77" y="165.33" width="1.74" height="93.22" fill="#1f77b4"/>
<rect x="462.51" y="163.39" width="1.74" height="95.16" fill="#ff7f0e"/>
<rect x="464.25" y="163.09" width="1.74" height="95.46" fill="#2ca02c"/>
<rect x="465.99" y="163.09" width="1.74" height="95.46" fill="#d62728"/>
<rect x="467.73" y="162.68" width="1.74" height="95.87" fill="#9467bd"/>
<rect x="477.38" y="161.96" width="1.74" height="96.59" fill="#1f77b4"/>
<rect x="479.12" y="160.23" width="1.74" height="98.32" fill="#ff7f0e"/>
<rect x="480.86" y="160.53" width="1.74" height="98.02" fill="#2ca02c"/>
<rect x="482.6" y="160.53" width="1.74" height="98.02" fill="#d62728"/>
<rect x="484.34" y="160.02" width="1.74" height="98.53" fill="#9467bd"/>
<rect x="493.99" y="164.42" width="1.74" height="94.13" fill="#1f77b4"/>
<rect x="495.73" y="161.66" width="1.74" height="96.89" fill="#ff7f0e"/>
<rect x="497.47" y="161.66" width="1.74" height="96.89" fill="#2ca02c"/>
<rect x="499.21" y="161.66" width="1.74" height="96.89" fill="#d62728"/>
<rect x="500.95" y="162.27" width="1.74" height="96.28" fill="#9467bd"/>
<rect x="510.6" y="161.55" width="1.74" height="97" fill="#1f77b4"/>
<rect x="512.34" y="163.39" width="1.74" height="95.16" fill="#ff7f0e"/>
<rect x="514.08" y="160.84" width="1.74" height="97.71" fill="#2ca02c"/>
<rect x="515.82" y="160.53" width="1.74" height="98.02" fill="#d62728"/>
<rect x="517.56" y="160.23" width="1.74" height="98.32" fill="#9467bd"/>
<rect x="527.21" y="157.67" width="1.74" height="100.88" fill="#1f77b4"/>
<rect x="528.95" y="157.16" width="1.74" height="101.39" fill="#ff7f0e"/>
<rect x="530.69" y="156.96" width="1.74" height="101.59" fill="#2ca02c"/>
<rect x="532.43" y="157.16" width="1.74" height="101.39" fill="#d62728"/>
<rect x="534.17" y="157.26" width="1.74" height="101.29" fill="#9467bd"/>
<line x1="394.03" y1="156.96" x2="527.01" y2="156.96" stroke="#ffff00" stroke-width="0.72"/>
<rect x="387.4" y="151.65" width="155.95" height="106.9" fill="none" stroke="#000" stroke-opacity="0.42" stroke-width="1"/>
<line x1="398.68" y1="258.85" x2="398.68" y2="260.05" stroke="#000" stroke-opacity="0.42" stroke-width="1"/>
<text x="398.68" y="264.05" font-size="3.8" text-anchor="middle" font-family='"Liberation Serif", "DejaVu Serif", serif'>NDSR</text>
<line x1="415.29" y1="258.85" x2="415.29" y2="260.05" stroke="#000" stroke-opacity="0.42" stroke-width="1"/>
<text x="415.29" y="264.05" font-size="3.8" text-anchor="middle" font-family='"Liberation Serif", "DejaVu Serif", serif'>PCA</text>
<line x1="431.9" y1="258.85" x2="431.9" y2="260.05" stroke="#000" stroke-opacity="0.42" stroke-width="1"/>
<text x="431.9" y="264.05" font-size="3.8" text-anchor="middle" font-family='"Liberation Serif", "DejaVu Serif", serif'>LDA</text>
<line x1="448.51" y1="258.85" x2="448.51" y2="260.05" stroke="#000" stroke-opacity="0.42" stroke-width="1"/>
<text x="448.51" y="264.05" font-size="3.8" text-anchor="middle" font-family='"Liberation Serif", "DejaVu Serif", serif'>LLE</text>
<line x1="465.12" y1="258.85" x2="465.12" y2="260.05" stroke="#000" stroke-opacity="0.42" stroke-width="1"/>
<text x="465.12" y="264.05" font-size="3.8" text-anchor="middle" font-family='"Liberation Serif", "DejaVu Serif", serif'>T-SNE</text>
<line x1="481.73" y1="258.85" x2="481.73" y2="260.05" stroke="#000" stroke-opacity="0.42" stroke-width="1"/>
<text x="481.73" y="264.05" font-size="3.8" text-anchor="middle" font-family='"Liberation Serif", "DejaVu Serif", serif'>SVD</text>
<line x1="498.34" y1="258.85" x2="498.34" y2="260.05" stroke="#000" stroke-opacity="0.42" stroke-width="1"/>
<text x="498.34" y="264.05" font-size="3.8" text-anchor="middle" font-family='"Liberation Serif", "DejaVu Serif", serif'>ICA</text>
<line x1="514.95" y1="258.85" x2="514.95" y2="260.05" stroke="#000" stroke-opacity="0.42" stroke-width="1"/>
<text x="514.95" y="264.05" font-size="3.8" text-anchor="middle" font-family='"Liberation Serif", "DejaVu Serif", serif'>FA</text>
<line x1="531.56" y1="258.85" x2="531.56" y2="260.05" stroke="#000" stroke-opacity="0.42" stroke-width="1"/>
<text x="531.56" y="264.05" font-size="3.8" text-anchor="middle" font-family='"Liberation Serif", "DejaVu Serif", serif'>UMAP</text>
<line x1="385.9" y1="258.55" x2="387.1" y2="258.55" stroke="#000" stroke-opacity="0.42" stroke-width="1"/>
<text x="384.3" y="259.8" font-size="3.8" text-anchor="end" font-family='"Liberation Serif", "DejaVu Serif", serif'>0.0</text>
<line x1="385.9" y1="237.98" x2="387.1" y2="237.98" stroke="#000" stroke-opacity="0.42" stroke-width="1"/>
<text x="384.3" y="239.23" font-size="3.8" text-anchor="end" font-family='"Liberation Serif", "DejaVu Serif", serif'>0.2</text>
<line x1="385.9" y1="217.41" x2="387.1" y2="217.41" stroke="#000" stroke-opacity="0.42" stroke-width="1"/>
<text x="384.3" y="218.66" font-size="3.8" text-anchor="end" font-family='"Liberation Serif", "DejaVu Serif", serif'>0.4</text>
<line x1="385.9" y1="196.85" x2="387.1" y2="196.85" stroke="#000" stroke-opacity="0.42" stroke-width="1"/>
<text x="384.3" y="198.1" font-size="3.8" text-anchor="end" font-family='"Liberation Serif", "DejaVu Serif", serif'>0.6</text>
<line x1="385.9" y1="176.28" x2="387.1" y2="176.28" stroke="#000" stroke-opacity="0.42" stroke-width="1"/>
<text x="384.3" y="177.53" font-size="3.8" text-anchor="end" font-family='"Liberation Serif", "DejaVu Serif", serif'>0.8</text>
<line x1="385.9" y1="155.71" x2="387.1" y2="155.71" stroke="#000" stroke-opacity="0.42" stroke-width="1"/>
<text x="384.3" y="156.96" font-size="3.8" text-anchor="end" font-family='"Liberation Serif", "DejaVu Serif", serif'>1.0</text>
<text x="465.37" y="270.85" font-size="6.2" class="b" text-anchor="middle" font-family='"Liberation Serif", "DejaVu Serif", serif'>dimension method</text>
<text transform="translate(376.8 205.1) rotate(-90)" class="b" font-size="6.2" text-anchor="middle" font-family='"Liberation Serif", "DejaVu Serif", serif'>accuracy</text>
<text x="465.37" y="149.45" font-size="5.0" class="b" text-anchor="middle" font-family='"Liberation Serif", "DejaVu Serif", serif'>DT</text>
<rect x="389.35" y="220" width="49.54" height="36" rx="0.8" ry="0.8" fill="#ffffff" fill-opacity="0.8" stroke="#cccccc" stroke-opacity="0.8" stroke-width="0.35"/>
<line x1="390.91" y1="223.5" x2="398.71" y2="223.5" stroke="#ffff00" stroke-width="0.72"/>
<text x="401.83" y="224.8" font-size="3.9" font-family='"Liberation Serif", "DejaVu Serif", serif'>99% significance level</text>
<rect x="390.91" y="228.05" width="7.8" height="2.5" fill="#1f77b4"/>
<text x="401.83" y="230.6" font-size="3.9" font-family='"Liberation Serif", "DejaVu Serif", serif'>Kappa</text>
<rect x="390.91" y="233.85" width="7.8" height="2.5" fill="#ff7f0e"/>
<text x="401.83" y="236.4" font-size="3.9" font-family='"Liberation Serif", "DejaVu Serif", serif'>Recall</text>
<rect x="390.91" y="239.65" width="7.8" height="2.5" fill="#2ca02c"/>
<text x="401.83" y="242.2" font-size="3.9" font-family='"Liberation Serif", "DejaVu Serif", serif'>AA</text>
<rect x="390.91" y="245.45" width="7.8" height="2.5" fill="#d62728"/>
<text x="401.83" y="248" font-size="3.9" font-family='"Liberation Serif", "DejaVu Serif", serif'>F1-score</text>
<rect x="390.91" y="251.25" width="7.8" height="2.5" fill="#9467bd"/>
<text x="401.83" y="253.8" font-size="3.9" font-family='"Liberation Serif", "DejaVu Serif", serif'>OA</text>
</g>
</svg>
</body></html>
